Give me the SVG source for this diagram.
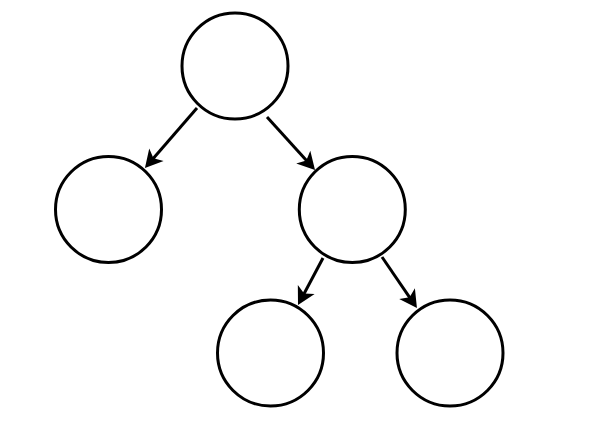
<svg xmlns="http://www.w3.org/2000/svg" width="594" height="430" viewBox="0 0 594 430">
<style>
.node{fill:#fff;stroke:#000;stroke-width:3}
.edge{stroke:#000;stroke-width:3;fill:none;marker-end:url(#arr)}
</style>
<defs>
<marker id="arr" viewBox="-9 -11 21 22" refX="0" refY="0" markerWidth="21" markerHeight="22" markerUnits="userSpaceOnUse" orient="auto">
<path d="M10,0 L-7.5,-9.5 L-3,0 L-7.5,9.5 Z" fill="#000"/>
</marker>
</defs>
<rect width="594" height="430" fill="#fff"/>
<g id="n1"><circle class="node" cx="235" cy="66" r="53"/></g>
<g id="n2"><circle class="node" cx="108.5" cy="209.5" r="53"/></g>
<g id="n3"><circle class="node" cx="352.3" cy="209.5" r="53"/></g>
<g id="n4"><circle class="node" cx="270.5" cy="353" r="53"/></g>
<g id="n5"><circle class="node" cx="450" cy="353" r="53"/></g>
<g id="edges">
<line class="edge" x1="197" y1="108" x2="151.5" y2="160.4"/>
<line class="edge" x1="267" y1="117" x2="308.3" y2="162.6"/>
<line class="edge" x1="323" y1="258" x2="302.7" y2="296.2"/>
<line class="edge" x1="382" y1="257" x2="411.3" y2="299.8"/>
</g>
</svg>
